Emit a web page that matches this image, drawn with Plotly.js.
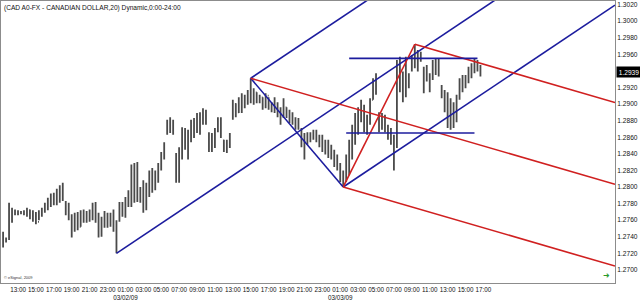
<!DOCTYPE html>
<html><head><meta charset="utf-8">
<script src="https://cdn.plot.ly/plotly-3.0.1.min.js"></script>
<style>html,body{margin:0;padding:0;background:#fff}#chart{width:640px;height:300px}</style>
</head><body><div id="chart"></div>
<script>
// ---- data ----
const barStart = '2009-03-01 11:20';
const barMinutes = 20;
const high = [
1.2746,1.2739,1.2781,1.2775,1.2773,1.2772,1.2771,1.2772,1.2775,1.2773,
1.2772,1.2770,1.2772,1.2775,1.2781,1.2787,1.2792,1.2793,1.2798,1.2802,
1.2805,1.2783,1.2781,1.2767,1.2769,1.2770,1.2772,1.2773,1.2771,1.2773,
1.2781,1.2782,1.2769,1.2764,1.2771,1.2769,1.2769,1.2773,1.2760,1.2782,
1.2782,1.2788,1.2796,1.2827,1.2829,1.2830,1.2800,1.2808,1.2805,1.2820,
1.2823,1.2820,1.2829,1.2842,1.2854,1.2881,1.2884,1.2881,1.2841,1.2848,
1.2872,1.2871,1.2869,1.2881,1.2883,1.2889,1.2890,1.2895,1.2893,1.2866,
1.2865,1.2871,1.2884,1.2884,1.2857,1.2857,1.2865,1.2905,1.2901,1.2908,
1.2913,1.2911,1.2917,1.2931,1.2919,1.2914,1.2911,1.2908,1.2913,1.2908,
1.2902,1.2908,1.2902,1.2896,1.2907,1.2896,1.2893,1.2890,1.2884,1.2883,
1.2871,1.2865,1.2866,1.2866,1.2869,1.2869,1.2863,1.2863,1.2857,1.2857,
1.2851,1.2845,1.2839,1.2829,1.2820,1.2839,1.2857,1.2875,1.2889,1.2896,
1.2905,1.2899,1.2887,1.2907,1.2931,1.2937,1.2890,1.2889,1.2887,1.2875,
1.2871,1.2863,1.2953,1.2957,1.2939,1.2957,1.2937,1.2959,1.2972,1.2965,
1.2963,1.2945,1.2947,1.2937,1.2953,1.2955,1.2955,1.2923,1.2917,1.2914,
1.2907,1.2902,1.2911,1.2931,1.2935,1.2935,1.2945,1.2949,1.2955,1.2953,1.2947];
const low = [
1.2727,1.2733,1.2736,1.2757,1.2766,1.2766,1.2767,1.2766,1.2764,1.2761,
1.2758,1.2755,1.2760,1.2764,1.2769,1.2772,1.2776,1.2778,1.2778,1.2781,
1.2783,1.2766,1.2760,1.2739,1.2746,1.2748,1.2752,1.2757,1.2757,1.2758,
1.2760,1.2757,1.2739,1.2740,1.2751,1.2751,1.2752,1.2746,1.2720,1.2758,
1.2764,1.2763,1.2776,1.2776,1.2781,1.2782,1.2781,1.2769,1.2772,1.2788,
1.2793,1.2796,1.2805,1.2820,1.2833,1.2863,1.2865,1.2863,1.2805,1.2805,
1.2833,1.2845,1.2833,1.2854,1.2859,1.2865,1.2863,1.2875,1.2875,1.2842,
1.2842,1.2847,1.2866,1.2859,1.2842,1.2841,1.2847,1.2881,1.2884,1.2889,
1.2889,1.2895,1.2899,1.2901,1.2899,1.2901,1.2901,1.2893,1.2895,1.2893,
1.2890,1.2889,1.2884,1.2875,1.2883,1.2883,1.2877,1.2875,1.2869,1.2869,
1.2848,1.2833,1.2851,1.2854,1.2857,1.2854,1.2848,1.2842,1.2839,1.2835,
1.2833,1.2824,1.2820,1.2806,1.2800,1.2806,1.2814,1.2833,1.2851,1.2863,
1.2878,1.2866,1.2863,1.2875,1.2905,1.2911,1.2866,1.2869,1.2866,1.2857,
1.2851,1.2820,1.2847,1.2914,1.2902,1.2908,1.2919,1.2939,1.2943,1.2939,
1.2951,1.2913,1.2927,1.2914,1.2929,1.2935,1.2933,1.2907,1.2890,1.2871,
1.2869,1.2871,1.2878,1.2905,1.2914,1.2919,1.2925,1.2931,1.2937,1.2939,1.2933];
const open = [
1.2730,1.2737,1.2738,1.2772,1.2768,1.2770,1.2769,1.2770,1.2768,1.2772,
1.2764,1.2768,1.2758,1.2769,1.2773,1.2779,1.2784,1.2788,1.2782,1.2795,
1.2788,1.2780,1.2770,1.2765,1.2750,1.2760,1.2752,1.2766,1.2760,1.2768,
1.2762,1.2778,1.2766,1.2745,1.2758,1.2764,1.2755,1.2766,1.2750,1.2760,
1.2778,1.2770,1.2784,1.2790,1.2820,1.2800,1.2798,1.2785,1.2775,1.2800,
1.2810,1.2798,1.2815,1.2825,1.2838,1.2865,1.2876,1.2870,1.2838,1.2812,
1.2840,1.2866,1.2852,1.2860,1.2876,1.2866,1.2884,1.2878,1.2890,1.2862,
1.2848,1.2858,1.2868,1.2880,1.2856,1.2847,1.2852,1.2884,1.2900,1.2890,
1.2904,1.2896,1.2907,1.2912,1.2905,1.2914,1.2905,1.2908,1.2896,1.2910,
1.2898,1.2894,1.2900,1.2888,1.2885,1.2896,1.2886,1.2882,1.2878,1.2872,
1.2868,1.2852,1.2858,1.2862,1.2858,1.2865,1.2857,1.2852,1.2846,1.2850,
1.2840,1.2836,1.2828,1.2824,1.2810,1.2815,1.2835,1.2850,1.2870,1.2882,
1.2890,1.2884,1.2875,1.2880,1.2905,1.2926,1.2884,1.2872,1.2882,1.2870,
1.2862,1.2856,1.2850,1.2940,1.2920,1.2910,1.2935,1.2942,1.2955,1.2948,
1.2960,1.2940,1.2930,1.2935,1.2930,1.2948,1.2940,1.2920,1.2910,1.2895,
1.2880,1.2900,1.2880,1.2908,1.2925,1.2920,1.2930,1.2940,1.2945,1.2950,1.2942];
const close = [
1.2742,1.2735,1.2772,1.2768,1.2770,1.2769,1.2770,1.2768,1.2772,1.2764,
1.2768,1.2758,1.2769,1.2773,1.2779,1.2784,1.2788,1.2782,1.2795,1.2788,
1.2800,1.2770,1.2776,1.2745,1.2760,1.2752,1.2766,1.2760,1.2768,1.2762,
1.2778,1.2766,1.2745,1.2758,1.2764,1.2755,1.2766,1.2750,1.2755,1.2778,
1.2770,1.2784,1.2790,1.2820,1.2800,1.2825,1.2785,1.2775,1.2800,1.2810,
1.2796,1.2815,1.2825,1.2838,1.2850,1.2876,1.2870,1.2866,1.2812,1.2840,
1.2866,1.2852,1.2860,1.2876,1.2866,1.2884,1.2870,1.2890,1.2880,1.2848,
1.2858,1.2866,1.2880,1.2862,1.2847,1.2852,1.2862,1.2900,1.2890,1.2904,
1.2896,1.2907,1.2912,1.2905,1.2914,1.2905,1.2908,1.2896,1.2910,1.2898,
1.2894,1.2904,1.2888,1.2880,1.2900,1.2886,1.2882,1.2878,1.2872,1.2875,
1.2852,1.2858,1.2862,1.2858,1.2865,1.2857,1.2852,1.2846,1.2850,1.2840,
1.2836,1.2828,1.2824,1.2810,1.2815,1.2835,1.2850,1.2870,1.2882,1.2890,
1.2884,1.2875,1.2880,1.2900,1.2926,1.2915,1.2872,1.2882,1.2870,1.2862,
1.2856,1.2830,1.2940,1.2920,1.2910,1.2950,1.2925,1.2955,1.2948,1.2960,
1.2954,1.2920,1.2942,1.2920,1.2948,1.2940,1.2950,1.2910,1.2895,1.2880,
1.2900,1.2878,1.2905,1.2925,1.2920,1.2930,1.2940,1.2945,1.2950,1.2942,1.2939];

const tickTimes = [
'2009-03-01 13:00','2009-03-01 15:00','2009-03-01 17:00','2009-03-01 19:00','2009-03-01 21:00','2009-03-01 23:00',
'2009-03-02 01:00','2009-03-02 03:00','2009-03-02 05:00','2009-03-02 07:00','2009-03-02 09:00','2009-03-02 11:00',
'2009-03-02 13:00','2009-03-02 15:00','2009-03-02 17:00','2009-03-02 19:00','2009-03-02 21:00','2009-03-02 23:00',
'2009-03-03 01:00','2009-03-03 03:00','2009-03-03 05:00','2009-03-03 07:00','2009-03-03 09:00','2009-03-03 11:00',
'2009-03-03 13:00','2009-03-03 15:00','2009-03-03 17:00'];
const tickLabels = [
'13:00','15:00','17:00','19:00','21:00','23:00',
'01:00<br>03/02/09','03:00','05:00','07:00','09:00','11:00',
'13:00','15:00','17:00','19:00','21:00','23:00',
'01:00<br>03/03/09','03:00','05:00','07:00','09:00','11:00',
'13:00','15:00','17:00'];

// pitchfork pivots: P1 low, P2 high, P3 low, Q2 high
const pivotTimes  = ['2009-03-02 00:00','2009-03-02 15:00','2009-03-03 01:20','2009-03-03 09:20'];
const pivotPrices = [1.2720, 1.2931, 1.2800, 1.2972];
// horizontal levels
const levelPrices = [1.2955, 1.2865];
const levelStart  = ['2009-03-03 02:00','2009-03-03 01:40'];
const levelEnd    = ['2009-03-03 16:20','2009-03-03 16:00'];
const lastPrice = 1.2939;
const titleText = '(CAD A0-FX - CANADIAN DOLLAR,20) Dynamic,0:00-24:00';

// ---- helpers ----
function toMs(s){const [d,t]=s.split(' ');const [Y,M,D]=d.split('-').map(Number);const [h,m]=t.split(':').map(Number);return Date.UTC(Y,M-1,D,h,m);}
function fmt(ms){const d=new Date(ms);const p=n=>String(n).padStart(2,'0');
  return d.getUTCFullYear()+'-'+p(d.getUTCMonth()+1)+'-'+p(d.getUTCDate())+' '+p(d.getUTCHours())+':'+p(d.getUTCMinutes())+':'+p(d.getUTCSeconds());}

const t0 = toMs(barStart);
const times = high.map((_,i)=>fmt(t0 + i*barMinutes*60000));

const xRange = ['2009-03-01 11:06','2009-03-04 07:42'];
const xEnd = toMs(xRange[1]);
const yRange = [1.26843, 1.30241];

const FONT = 'Liberation Sans, Arial, sans-serif';
const BLUE = '#1c1c9e', RED = '#d02020';

function pt(i){return {t: toMs(pivotTimes[i]), p: pivotPrices[i]};}
function line(pts,color){return {type:'scatter',mode:'lines',x:pts.map(q=>fmt(q.t)),y:pts.map(q=>q.p),
  line:{color:color,width:1.6},hoverinfo:'skip',showlegend:false};}
function fork(a,b,c,color){
  const m={t:(b.t+c.t)/2,p:(b.p+c.p)/2};
  const s=(m.p-a.p)/(m.t-a.t);
  const ext=q=>[q,{t:xEnd,p:q.p+s*(xEnd-q.t)}];
  return [line([b,c],color), line(ext(a),color), line(ext(b),color), line(ext(c),color)];
}

const traces = [{
  type:'ohlc', x:times, open:open, high:high, low:low, close:close,
  increasing:{line:{color:'#4a4a4a',width:1.8}}, decreasing:{line:{color:'#4a4a4a',width:1.8}},
  tickwidth:0.3, hoverinfo:'skip', showlegend:false
}];
traces.push(...fork(pt(0),pt(1),pt(2),BLUE));
traces.push(...fork(pt(1),pt(2),pt(3),RED));
levelPrices.forEach((p,i)=>traces.push(line([{t:toMs(levelStart[i]),p:p},{t:toMs(levelEnd[i]),p:p}],BLUE)));

const layout = {
  width:640, height:300,
  margin:{l:1,r:25,t:1,b:17},
  paper_bgcolor:'#fff', plot_bgcolor:'#fff',
  showlegend:false,
  font:{family:FONT,size:6.3,color:'#111'},
  xaxis:{type:'date', range:xRange, tickvals:tickTimes, ticktext:tickLabels, tickangle:0, ticklabelstandoff:0,
    showgrid:false, zeroline:false, showline:true, mirror:true, linecolor:'#8c8c8c', linewidth:1,
    ticks:'', tickfont:{family:FONT,size:6.3,color:'#111'}, rangeslider:{visible:false}, fixedrange:true},
  yaxis:{side:'right', range:yRange, tick0:1.27, dtick:0.002, tickformat:'.4f',
    showgrid:false, zeroline:false, showline:true, mirror:true, linecolor:'#8c8c8c', linewidth:1,
    ticks:'', tickfont:{family:FONT,size:6.6,color:'#111'}, fixedrange:true},
  annotations:[
    {xref:'paper',yref:'paper',x:0,y:1,xanchor:'left',yanchor:'top',xshift:1,yshift:-1,showarrow:false,
     text:titleText,font:{family:FONT,size:6.6,color:'#111'}},
    {xref:'paper',yref:'paper',x:0,y:0,xanchor:'left',yanchor:'bottom',xshift:1,yshift:1,showarrow:false,
     text:'© eSignal, 2009',font:{family:FONT,size:4,color:'#333'}},
    {xref:'paper',yref:'paper',x:1,y:0,xanchor:'right',yanchor:'bottom',xshift:-3,yshift:1,showarrow:false,
     text:'➜',font:{family:'DejaVu Sans',size:8,color:'#2a9a2a'}},
    {xref:'paper',yref:'y',x:1,y:lastPrice,xanchor:'left',yanchor:'middle',xshift:1,showarrow:false,
     text:lastPrice.toFixed(4),bgcolor:'#000',borderpad:1,width:22,height:8,
     font:{family:FONT,size:6.6,color:'#fff'}}
  ]
};
Plotly.newPlot('chart',traces,layout,{staticPlot:true,displayModeBar:false});
</script></body></html>
